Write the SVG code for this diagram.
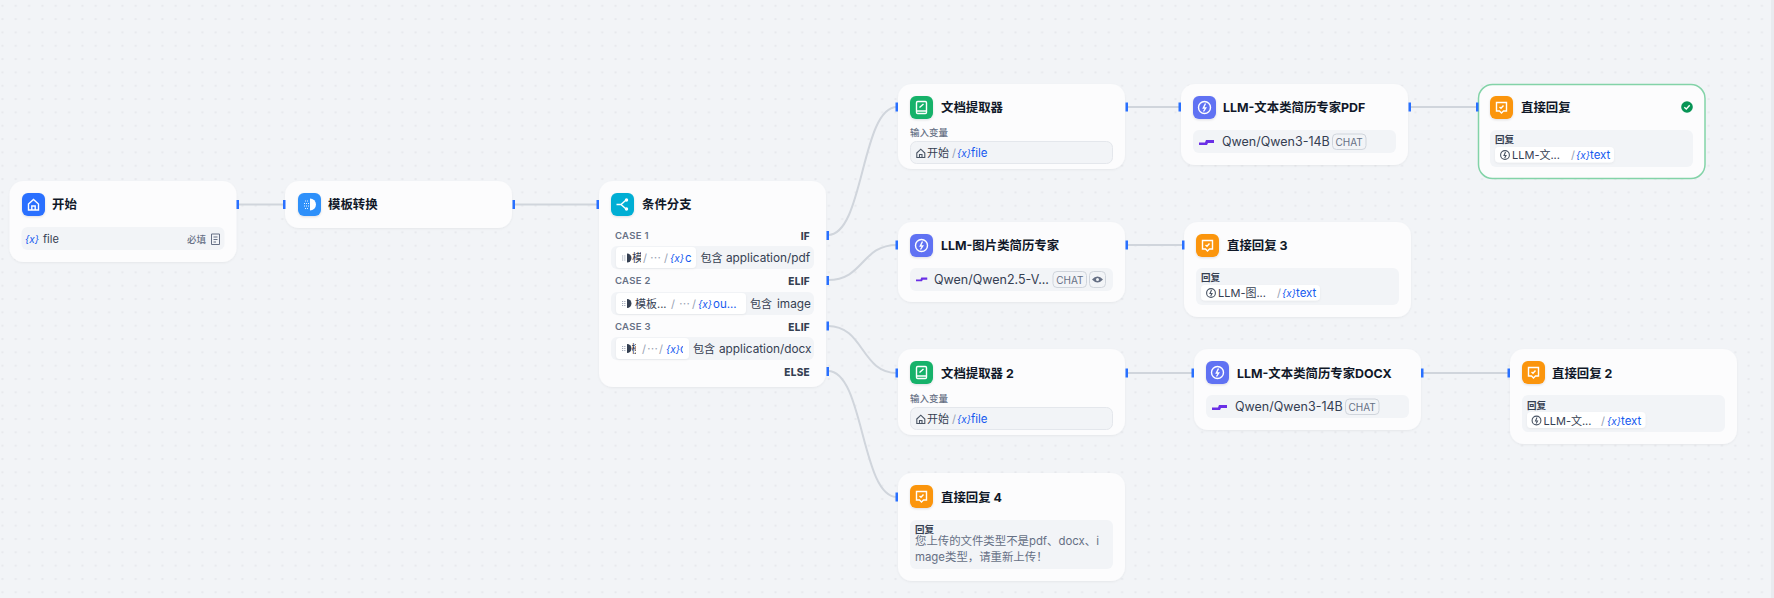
<svg xmlns="http://www.w3.org/2000/svg" width="1774" height="598" viewBox="0 0 1774 598">
<style>
text{font-family:"Inter","Noto Sans CJK SC","Liberation Sans",sans-serif;dominant-baseline:central}
.card{fill:#fcfcfd;filter:url(#sh)}
.ic{filter:url(#ish)}
.t{font-size:12.4px;font-weight:700;fill:#101828}
.row{fill:#f2f4f7}
.box{fill:#f2f4f7;stroke:#e4e7ec;stroke-width:1}
.pill{fill:#fff;filter:url(#sh)}
.lab{font-size:9.5px;font-weight:500;fill:#667085}
.rl{font-size:9.5px;font-weight:700;fill:#354052}
.cs{font-size:9.5px;font-weight:600;fill:#667085;letter-spacing:.3px}
.br{font-size:10px;font-weight:800;fill:#354052;text-anchor:end;letter-spacing:.3px}
.b{font-size:11px;fill:#354052}
.d{font-size:11.4px;fill:#667085}
.m{font-size:12.5px;fill:#354052}
.o{font-size:11.8px;fill:#354052}
.k{font-size:11px;fill:#354052}
.v{font-size:11.5px;fill:#155aef}
.x{font-size:10px;font-style:italic;fill:#155aef}
.g{font-size:11px;fill:#98a2b3}
.tag{fill:none;stroke:#d0d5dc;stroke-width:1}
.tt{font-size:10px;fill:#667085;text-anchor:middle}
.h{fill:#2970ff}
.c{fill:none;stroke:#d0d5dc;stroke-width:2}
.w{fill:none;stroke:#fff;stroke-width:1.4}
.gi{fill:none;stroke:#495464;stroke-width:1.1}
</style>
<defs>
<pattern id="dots" width="13.33" height="13.33" patternUnits="userSpaceOnUse"><rect x="1.4" y="4.8" width="2" height="2" fill="#e7e9ed"/></pattern>
<filter id="sh" x="-5%" y="-10%" width="110%" height="125%"><feDropShadow dx="0" dy="1" stdDeviation="1.2" flood-color="#101828" flood-opacity=".05"/></filter>
<filter id="ish" x="-25%" y="-25%" width="150%" height="160%"><feDropShadow dx="0" dy="1" stdDeviation="1.2" flood-color="#101828" flood-opacity=".12"/></filter>
<clipPath id="cp1"><rect x="632" y="247" width="9" height="21"/></clipPath>
<clipPath id="cp1b"><rect x="684" y="247" width="10" height="21"/></clipPath>
<clipPath id="cp3"><rect x="632" y="338" width="4" height="21"/></clipPath>
<clipPath id="cp3b"><rect x="680" y="338" width="3" height="21"/></clipPath>
<g id="i-start"><rect width="23" height="23" rx="6" fill="#2970ff" class="ic"/><path class="w" d="M6.500 11 11.500 6.500 16.500 11V17H6.500ZM9.800 17V13H13.200V17"/></g>
<g id="i-tpl"><rect width="23" height="23" rx="6" fill="#2e90fa" class="ic"/><path d="M12 5.500A6 6 0 0 1 12 17.500Z" fill="#fff"/><path d="M7 8h4M6 10.500h5M6 13h5M7 15.500h4" stroke="#fff" stroke-width=".9" stroke-dasharray="1 1" fill="none"/></g>
<g id="i-if"><rect width="23" height="23" rx="6" fill="#06aed4" class="ic"/><path class="w" d="M5.500 11.500H10L14.500 7.500M10 11.500L14.500 15.500"/><circle cx="15.500" cy="7" r="1.700" fill="#fff"/><circle cx="15.500" cy="16" r="1.700" fill="#fff"/></g>
<g id="i-doc"><rect width="23" height="23" rx="6" fill="#17b26a" class="ic"/><rect x="6.500" y="5.500" width="10" height="12" rx="1.200" class="w"/><path class="w" d="M6.500 15H16.500M9.500 11.500 13.500 8"/></g>
<g id="i-llm"><rect width="23" height="23" rx="6" fill="#6172f3" class="ic"/><circle cx="11.500" cy="11.500" r="6" class="w"/><path class="w" d="M12.500 7.500 10.300 12H12.700L10.500 15.500"/></g>
<g id="i-ans"><rect width="23" height="23" rx="6" fill="#fb9507" class="ic"/><path class="w" d="M6.500 6.500H16.500V15H13.500L11.500 17 9.500 15H6.500Z"/><path class="w" d="M9.500 11 11 12.300 13.500 9.500"/></g>
<g id="logo"><path d="M0 4.500H6L7 2H15V5H9L8 7H0Z" fill="#6a2fe6"/></g>
<g id="g-llm"><circle cx="5" cy="5" r="4.400" class="gi"/><path class="gi" d="M5.500 2 4 5.500H6L4.700 8"/></g>
<g id="g-tpl"><path d="M5 .5A4.500 4.500 0 0 1 5 9.500Z" fill="#354052"/><path d="M0 3h4M0 5h4M0 7h4" stroke="#98a2b3" stroke-width=".9" stroke-dasharray="1 .8"/></g>
<g id="g-home"><path class="gi" d="M.8 5 4.800 1.200 8.800 5V9.500H.8ZM3.500 9.500V6.500H6V9.500"/></g>
</defs>
<rect width="1774" height="598" fill="#f2f4f7"/>
<rect width="1771" height="598" fill="url(#dots)"/>
<rect x="1771" width="3" height="598" fill="#e9ebef"/>

<g id="connectors">
<path class="c" d="M238 204.500H284"/>
<path class="c" d="M514 204.500H598"/>
<path class="c" d="M828 235C864 235 861 107 897 107"/>
<path class="c" d="M828 280C864 280 861 245 897 245"/>
<path class="c" d="M828 326C864 326 861 373 897 373"/>
<path class="c" d="M828 371C864 371 861 497 897 497"/>
<path class="c" d="M1126 107H1179"/>
<path class="c" d="M1409 107H1477"/>
<path class="c" d="M1126 245H1183"/>
<path class="c" d="M1126 373H1193"/>
<path class="c" d="M1422 373H1508"/>
</g>

<g id="n-start">
<rect class="card" x="9.500" y="181" width="227" height="81" rx="14"/>
<use href="#i-start" x="22" y="193"/>
<text class="t" x="52" y="204.500">开始</text>
<rect class="row" x="21.500" y="227" width="203" height="23" rx="6"/>
<text class="x" x="25" y="238.500">{x}</text>
<text class="b" x="43" y="238.500">file</text>
<text class="lab" x="187" y="239">必填</text>
<path d="M211.500 234H219.500V244.500H211.500ZM213.500 237H217.500M213.500 239.500H217.500M213.500 242H216" fill="none" stroke="#667085"/>
</g>

<g id="n-template">
<rect class="card" x="285" y="181" width="227" height="47" rx="14"/>
<use href="#i-tpl" x="298" y="193"/>
<text class="t" x="328" y="204.500">模板转换</text>
</g>

<g id="n-if">
<rect class="card" x="599" y="181" width="227" height="206" rx="14"/>
<use href="#i-if" x="611" y="193"/>
<text class="t" x="642" y="204.500">条件分支</text>
<text class="cs" x="615" y="235.500">CASE 1</text>
<text class="br" x="810" y="235.500">IF</text>
<rect class="row" x="611" y="246" width="203" height="23" rx="6"/>
<rect class="pill" x="616" y="247" width="80" height="21" rx="4"/>
<use href="#g-tpl" x="622" y="253"/>
<text class="b" x="632" y="258" clip-path="url(#cp1)">模</text>
<text class="g" x="643" y="258">/</text><text class="g" x="650" y="258">⋯</text><text class="g" x="664" y="258">/</text>
<text class="x" x="670" y="258">{x}</text>
<text class="v" x="685" y="258" clip-path="url(#cp1b)">c</text>
<text class="k" x="700.500" y="258">包含</text><text class="o" x="726" y="258">application/pdf</text>

<text class="cs" x="615" y="280.500">CASE 2</text>
<text class="br" x="810" y="280.500">ELIF</text>
<rect class="row" x="611" y="292" width="203" height="23" rx="6"/>
<rect class="pill" x="616" y="293" width="130" height="21" rx="4"/>
<use href="#g-tpl" x="622" y="298.500"/>
<text class="b" x="635" y="303.500">模板...</text>
<text class="g" x="671" y="303.500">/</text><text class="g" x="679" y="303.500">⋯</text><text class="g" x="692" y="303.500">/</text>
<text class="x" x="698" y="303.500">{x}</text>
<text class="v" x="713" y="303.500">ou...</text>
<text class="k" x="750" y="303.500">包含</text><text class="o" x="777" y="303.500">image</text>

<text class="cs" x="615" y="326.500">CASE 3</text>
<text class="br" x="810" y="326.500">ELIF</text>
<rect class="row" x="611" y="337" width="203" height="23" rx="6"/>
<rect class="pill" x="616" y="338" width="73" height="21" rx="4"/>
<use href="#g-tpl" x="622" y="343.500"/>
<text class="b" x="631" y="348.500" clip-path="url(#cp3)">模</text>
<text class="g" x="642" y="348.500">/</text><text class="g" x="647" y="348.500">⋯</text><text class="g" x="659" y="348.500">/</text>
<text class="x" x="666" y="348.500">{x}</text>
<text class="v" x="680" y="348.500" clip-path="url(#cp3b)">c</text>
<text class="k" x="693" y="348.500">包含</text><text class="o" x="719" y="348.500">application/docx</text>
<text class="br" x="810" y="371.500">ELSE</text>
</g>

<g id="n-doc1">
<rect class="card" x="898" y="84" width="227" height="85" rx="14"/>
<use href="#i-doc" x="910" y="96"/>
<text class="t" x="941" y="107.500">文档提取器</text>
<text class="lab" x="910" y="132.500">输入变量</text>
<rect class="box" x="910.500" y="141.500" width="202" height="22" rx="6"/>
<use href="#g-home" x="916" y="148"/>
<text class="b" x="927" y="152.500">开始</text>
<text class="g" x="952" y="152.500">/</text>
<text class="x" x="957" y="152.500">{x}</text>
<text class="v" x="971" y="152.500">file</text>
</g>

<g id="n-llm-pdf">
<rect class="card" x="1181" y="84" width="227" height="81" rx="14"/>
<use href="#i-llm" x="1193" y="96"/>
<text class="t" x="1223" y="107.500">LLM-文本类简历专家PDF</text>
<rect class="row" x="1193" y="130" width="203" height="23" rx="6"/>
<use href="#logo" x="1199" y="138"/>
<text class="m" x="1222" y="141.500">Qwen/Qwen3-14B</text>
<rect class="tag" x="1332.500" y="134" width="33.500" height="15.500" rx="4"/>
<text class="tt" x="1349.200" y="142">CHAT</text>
</g>

<g id="n-ans1">
<rect x="1478.500" y="84.500" width="226.500" height="94" rx="14" fill="#fcfcfd" stroke="#83d3a8" stroke-width="1.500"/>
<use href="#i-ans" x="1490" y="96"/>
<text class="t" x="1521" y="107.500">直接回复</text>
<circle cx="1687" cy="107" r="5.800" fill="#079455"/>
<path d="M1684.300 107.200 1686.300 109 1689.700 105.300" fill="none" stroke="#fff" stroke-width="1.400"/>
<rect class="row" x="1490" y="130" width="203" height="37" rx="6"/>
<text class="rl" x="1495" y="139">回复</text>
<rect class="pill" x="1495" y="147" width="119" height="15.500" rx="4"/>
<use href="#g-llm" x="1500" y="150"/>
<text class="b" x="1512" y="155">LLM-文...</text>
<text class="g" x="1571" y="155">/</text>
<text class="x" x="1576" y="155">{x}</text>
<text class="v" x="1590" y="155">text</text>
</g>

<g id="n-llm-img">
<rect class="card" x="898" y="222" width="227" height="80" rx="14"/>
<use href="#i-llm" x="910" y="234"/>
<text class="t" x="941" y="245.500">LLM-图片类简历专家</text>
<rect class="row" x="910" y="268" width="203" height="23" rx="6"/>
<use href="#logo" transform="translate(916 276) scale(.75)"/>
<text class="m" x="934" y="279.500">Qwen/Qwen2.5-V...</text>
<rect class="tag" x="1053" y="271.500" width="33.500" height="16" rx="4"/>
<text class="tt" x="1069.800" y="279.500">CHAT</text>
<rect class="tag" x="1089.500" y="271.500" width="16" height="16" rx="4"/>
<path d="M1092 279.500Q1097.500 273.500 1103 279.500 1097.500 285.500 1092 279.500Z" fill="#667085"/>
<circle cx="1097.500" cy="279.500" r="1.500" fill="#f2f4f7"/>
</g>

<g id="n-ans3">
<rect class="card" x="1184" y="222" width="227" height="95" rx="14"/>
<use href="#i-ans" x="1196" y="234"/>
<text class="t" x="1227" y="245.500">直接回复 3</text>
<rect class="row" x="1196" y="268" width="203" height="37" rx="6"/>
<text class="rl" x="1201" y="277">回复</text>
<rect class="pill" x="1201" y="285" width="119" height="15.500" rx="4"/>
<use href="#g-llm" x="1206" y="288"/>
<text class="b" x="1218" y="293">LLM-图...</text>
<text class="g" x="1277" y="293">/</text>
<text class="x" x="1282" y="293">{x}</text>
<text class="v" x="1296" y="293">text</text>
</g>

<g id="n-doc2">
<rect class="card" x="898" y="349" width="227" height="86" rx="14"/>
<use href="#i-doc" x="910" y="361"/>
<text class="t" x="941" y="373">文档提取器 2</text>
<text class="lab" x="910" y="398">输入变量</text>
<rect class="box" x="910.500" y="407.500" width="202" height="22" rx="6"/>
<use href="#g-home" x="916" y="414"/>
<text class="b" x="927" y="418.500">开始</text>
<text class="g" x="952" y="418.500">/</text>
<text class="x" x="957" y="418.500">{x}</text>
<text class="v" x="971" y="418.500">file</text>
</g>

<g id="n-llm-docx">
<rect class="card" x="1194" y="349" width="227" height="81" rx="14"/>
<use href="#i-llm" x="1206" y="361"/>
<text class="t" x="1237" y="373">LLM-文本类简历专家DOCX</text>
<rect class="row" x="1206" y="395" width="203" height="23" rx="6"/>
<use href="#logo" x="1212" y="403"/>
<text class="m" x="1235" y="406.500">Qwen/Qwen3-14B</text>
<rect class="tag" x="1345.500" y="399" width="33.500" height="15.500" rx="4"/>
<text class="tt" x="1362.200" y="407">CHAT</text>
</g>

<g id="n-ans2">
<rect class="card" x="1510" y="349" width="227" height="95" rx="14"/>
<use href="#i-ans" x="1522" y="361"/>
<text class="t" x="1552" y="373">直接回复 2</text>
<rect class="row" x="1522" y="395" width="203" height="37" rx="6"/>
<text class="rl" x="1527" y="405">回复</text>
<rect class="pill" x="1527" y="412" width="118.500" height="16" rx="4"/>
<use href="#g-llm" x="1531.500" y="415.500"/>
<text class="b" x="1543.500" y="420.500">LLM-文...</text>
<text class="g" x="1601" y="420.500">/</text>
<text class="x" x="1607" y="420.500">{x}</text>
<text class="v" x="1621" y="420.500">text</text>
</g>

<g id="n-ans4">
<rect class="card" x="898" y="473" width="227" height="108" rx="14"/>
<use href="#i-ans" x="910" y="485"/>
<text class="t" x="941" y="497">直接回复 4</text>
<rect class="row" x="910" y="520" width="203" height="49" rx="6"/>
<text class="rl" x="915" y="529">回复</text>
<text class="d" x="915" y="541">您上传的文件类型不是pdf、docx、i</text>
<text class="d" x="915" y="556.500">mage类型，请重新上传！</text>
</g>

<g id="handles">
<rect class="h" x="236.500" y="200" width="2.500" height="9"/><rect class="h" x="283" y="200" width="2.500" height="9"/>
<rect class="h" x="512.500" y="200" width="2.500" height="9"/><rect class="h" x="596.500" y="200" width="2.500" height="9"/>
<rect class="h" x="826.500" y="231" width="2.500" height="9"/><rect class="h" x="826.500" y="276" width="2.500" height="9"/><rect class="h" x="826.500" y="321.500" width="2.500" height="9"/><rect class="h" x="826.500" y="367" width="2.500" height="9"/>
<rect class="h" x="895.500" y="102.500" width="2.500" height="9"/><rect class="h" x="1125.500" y="102.500" width="2.500" height="9"/>
<rect class="h" x="1178.500" y="102.500" width="2.500" height="9"/><rect class="h" x="1408.500" y="102.500" width="2.500" height="9"/><rect class="h" x="1476" y="102.500" width="2.500" height="9"/>
<rect class="h" x="895.500" y="240.500" width="2.500" height="9"/><rect class="h" x="1125.500" y="240.500" width="2.500" height="9"/><rect class="h" x="1182" y="240.500" width="2.500" height="9"/>
<rect class="h" x="895.500" y="368.500" width="2.500" height="9"/><rect class="h" x="1125.500" y="368.500" width="2.500" height="9"/><rect class="h" x="1191.500" y="368.500" width="2.500" height="9"/><rect class="h" x="1421" y="368.500" width="2.500" height="9"/><rect class="h" x="1507.500" y="368.500" width="2.500" height="9"/>
<rect class="h" x="895.500" y="492.500" width="2.500" height="9"/>
</g>
</svg>
